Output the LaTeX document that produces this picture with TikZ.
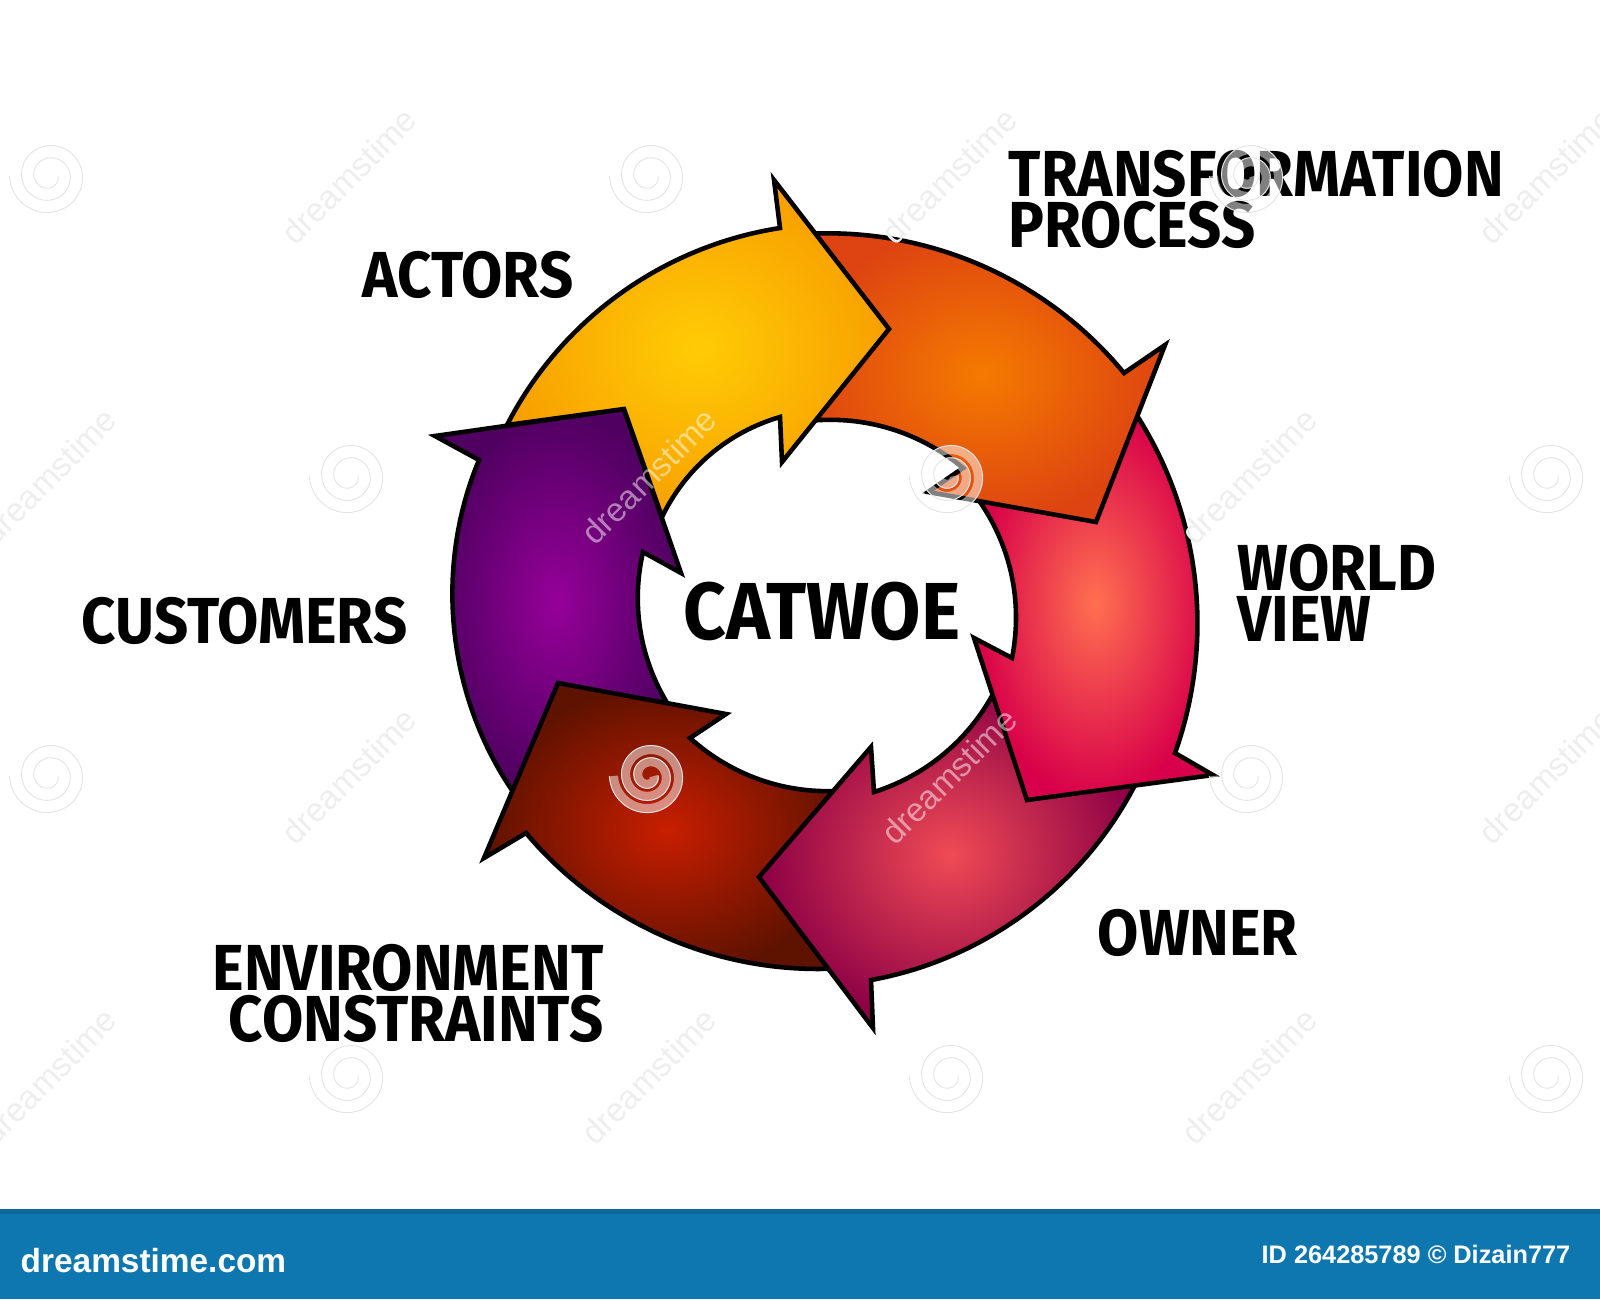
\documentclass[tikz,border=0pt]{standalone}
\usepackage{fontspec}
\setmainfont{Fira Sans}[FakeStretch=0.92]
\newfontfamily\barfont{Liberation Sans}
\definecolor{barblue}{HTML}{0F77AF}
\tikzset{
    arrowshape/.style={draw=black, line width=1.3pt, miter limit=30, shade, shading=radial},
    ringlabel/.style={font=\fontsize{18.5}{14.4}\selectfont\bfseries, text=black, inner sep=0pt},
    barlabel/.style={font=\barfont\bfseries, text=white, inner sep=0pt},
    wmtext/.style={font=\barfont\fontsize{9.5}{10}\selectfont, rotate=45, inner sep=0pt},
    wmspiral/.pic={
        \draw[white, opacity=.5, line width=2.6pt] plot[domain=0:900, samples=90, smooth] (\x:{5+0.034*\x});
        \draw[gray!22, line width=.25pt] plot[domain=0:900, samples=90, smooth] (\x:{9+0.034*\x});
    }
}

\begin{document}
\begin{tikzpicture}[x=0.01cm, y=-0.01cm]
    \useasboundingbox (0,0) rectangle (1600,1299);
    \fill[white] (0,0) rectangle (1600,1299);
    \fill[barblue] (0,1209) rectangle (1600,1299);
    \fill[barblue!88!black] (0,1209) rectangle (1600,1214);

    % customers
    \path[arrowshape, inner color={rgb,255:red,150;green,0;blue,153}, outer color={rgb,255:red,79;green,0;blue,96}]
        (516,796) to[bend left=29, looseness=.9] (479,460) -- (435,436) -- (624,409) -- (681,573) -- (643,552)
        to[bend right=24, looseness=.9] (675,715) -- cycle;
    % environment
    \path[arrowshape, inner color={rgb,255:red,200;green,30;blue,0}, outer color={rgb,255:red,94;green,18;blue,0}]
        (845,968) to[bend left=27, looseness=.9] (526,833) -- (484,858) -- (558,683) -- (726,714) -- (690,738)
        to[bend right=24, looseness=.9] (850,790) -- cycle;
    % owner
    \path[arrowshape, inner color={rgb,255:red,240;green,75;blue,85}, outer color={rgb,255:red,140;green,0;blue,69}]
        (1140,775) to[bend left=27, looseness=.9] (871,980) -- (873,1028) -- (759,877) -- (871,747) -- (874,792)
        to[bend right=24, looseness=.9] (1000,680) -- cycle;
    % world view
    \path[arrowshape, inner color={rgb,255:red,255;green,112;blue,80}, outer color={rgb,255:red,216;green,0;blue,74}]
        (1130,405) to[bend left=27, looseness=.9] (1175,753) -- (1213,775) -- (1027,800) -- (974,638) -- (1012,658)
        to[bend right=24, looseness=.9] (975,495) -- cycle;
    % transformation
    \path[arrowshape, inner color={rgb,255:red,245;green,122;blue,0}, outer color={rgb,255:red,221;green,68;blue,17}]
        (805,234) to[bend left=27, looseness=.9] (1124,373) -- (1165,345) -- (1096,522) -- (928,492) -- (963,468)
        to[bend right=24, looseness=.9] (800,422) -- cycle;
    % actors
    \path[arrowshape, inner color={rgb,255:red,255;green,204;blue,5}, outer color={rgb,255:red,248;green,160;blue,0}]
        (507,425) to[bend left=27, looseness=.9] (780,228) -- (774,180) -- (889,329) -- (782,462) -- (780,417)
        to[bend right=24, looseness=.9] (662,517) -- (624,409) -- cycle;

    \node[ringlabel, anchor=west] (actors) at (362,275) {ACTORS};
    \node[ringlabel, anchor=north west, align=left] (transformation) at (1008,150) {TRANSFORMATION\\PROCESS};
    \node[ringlabel, anchor=north west, align=left] (worldview) at (1237,544) {WORLD\\VIEW};
    \node[ringlabel, anchor=west] (customers) at (81,621) {CUSTOMERS};
    \node[ringlabel, anchor=west] (owner) at (1097,933) {OWNER};
    \node[ringlabel, anchor=north east, align=right] (environment) at (604,944) {ENVIRONMENT\\CONSTRAINTS};
    \node[ringlabel, font=\fontsize{23}{24}\selectfont\bfseries] (catwoe) at (822,611) {CATWOE};

    \node[barlabel, anchor=west, font=\barfont\fontsize{9.5}{12}\selectfont\bfseries] (site) at (20,1261) {dreamstime.com};
    \node[barlabel, anchor=east, font=\barfont\fontsize{7.2}{9}\selectfont\bfseries] (imageid) at (1571,1254) {ID 264285789 © Dizain777};

    \foreach \wx/\wy in {49/176,649/176,1249/176,349/476,949/476,1549/476,49/776,649/776,1249/776,349/1076,949/1076,1549/1076}
        \pic at (\wx,\wy) {wmspiral};
    \foreach \wx/\wy in {349/176,949/176,1546/176,49/476,1249/476,49/1076,649/1076,1249/1076,349/776,1546/776}
        \node[wmtext, text=gray!13] at (\wx,\wy) {dreamstime};
    \node[wmtext, text=white, opacity=.5] (wmleft) at (649,476) {dreamstime};
    \node[wmtext, text=white, opacity=.5] (wmright) at (949,776) {dreamstime};
\end{tikzpicture}
\end{document}
